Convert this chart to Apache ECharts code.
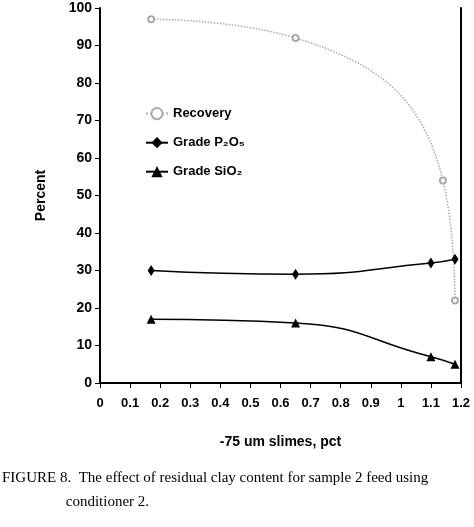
<!DOCTYPE html><html><head><meta charset="utf-8"><script src="https://cdn.jsdelivr.net/npm/echarts@6/dist/echarts.min.js"></script></head><body style="margin:0;background:#fff"><div id="c" style="width:474px;height:527px"></div><script>
const recovery=[[0.17,97],[0.65,92],[1.14,54],[1.18,22]];
const gradeP=[[0.17,30],[0.65,29],[1.1,32],[1.18,33]];
const gradeSi=[[0.17,17],[0.65,16],[1.1,7],[1.18,5]];
const ch=echarts.init(document.getElementById('c'));
const F='Liberation Sans';
ch.setOption({animation:false,
grid:{left:100,right:13,top:8,bottom:144},
xAxis:{type:'value',min:0,max:1.2,interval:0.1,name:'-75 um slimes, pct',nameLocation:'middle',nameGap:52,
nameTextStyle:{fontFamily:F,fontWeight:'bold',fontSize:14,color:'#000'},
axisLine:{lineStyle:{color:'#000',width:2}},axisTick:{lineStyle:{color:'#000'}},splitLine:{show:false},
axisLabel:{fontFamily:F,fontWeight:'bold',fontSize:13,color:'#000',margin:14,formatter:v=>String(+v.toFixed(1))}},
yAxis:[{type:'value',min:0,max:100,interval:10,name:'Percent',nameLocation:'middle',nameGap:52,nameRotate:90,
nameTextStyle:{fontFamily:F,fontWeight:'bold',fontSize:14,color:'#000'},
axisLine:{show:true,lineStyle:{color:'#000',width:2}},axisTick:{show:true,lineStyle:{color:'#000'}},splitLine:{show:false},
axisLabel:{fontFamily:F,fontWeight:'bold',fontSize:14,color:'#000'}},
{type:'value',min:0,max:100,position:'right',axisLine:{show:true,lineStyle:{color:'#000',width:2}},axisTick:{show:false},axisLabel:{show:false},splitLine:{show:false}}],
legend:{orient:'vertical',left:140,top:102,itemGap:16,itemWidth:22,textStyle:{fontFamily:F,fontWeight:'bold',fontSize:13,color:'#000'},
data:['Recovery','Grade P₂O₅','Grade SiO₂']},
series:[
{name:'Recovery',type:'line',smooth:true,data:recovery,symbol:'emptyCircle',symbolSize:6,lineStyle:{color:'#aaa',width:1.5,type:'dotted'},itemStyle:{color:'#aaa'}},
{name:'Grade P₂O₅',type:'line',smooth:true,data:gradeP,symbol:'diamond',symbolSize:[7,11],lineStyle:{color:'#000',width:1.5},itemStyle:{color:'#000'}},
{name:'Grade SiO₂',type:'line',smooth:true,data:gradeSi,symbol:'triangle',symbolSize:9,lineStyle:{color:'#000',width:1.5},itemStyle:{color:'#000'}}],
graphic:[{type:'text',left:2,top:466,style:{text:'FIGURE 8.  The effect of residual clay content for sample 2 feed using\n                 conditioner 2.',font:'15px "Liberation Serif"',fill:'#000',lineHeight:24}}]
});
</script></body></html>
